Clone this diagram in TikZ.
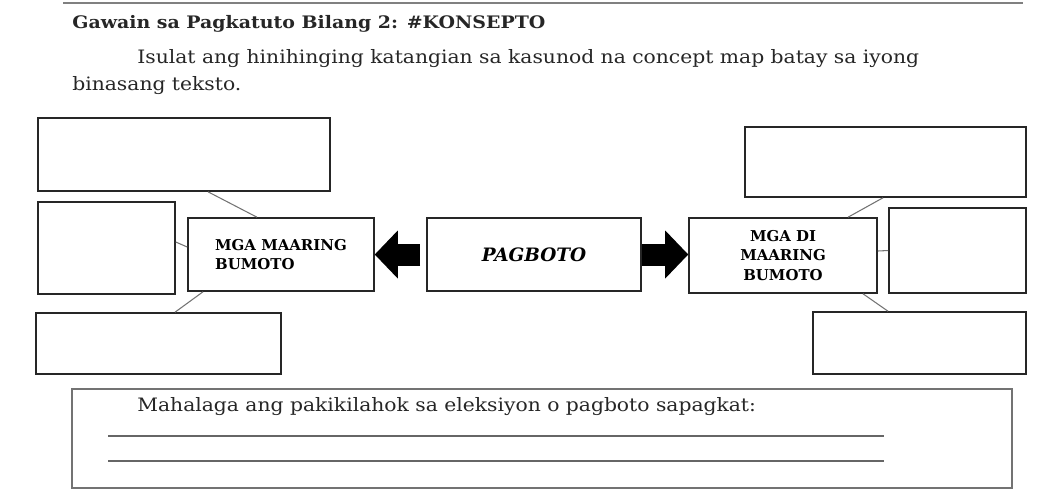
\documentclass[tikz,border=0pt]{standalone}
\usepackage{fontspec}
\setmainfont{DejaVu Serif}
\newfontfamily\widefont{DejaVu Serif}[FakeStretch=1.1]
\usetikzlibrary{positioning}
\usetikzlibrary{calc}
\usetikzlibrary{arrows.meta}

\tikzset{
	blankbox/.style={draw=black!85, line width=0.9pt, inner sep=0pt},
	labelbox/.style={blankbox, font=\bfseries\fontsize{8.5}{11}\selectfont},
	twig/.style={draw=black!55, line width=0.6pt},
	fatarrow/.style={black, line width=0.44cm, -{Triangle[length=0.46cm, width=0.96cm, line width=0pt]}},
	plaintext/.style={anchor=base west, inner sep=0pt, text=black!85, font=\widefont\fontsize{10.5}{12}\selectfont},
}

\begin{document}
\begin{tikzpicture}[x=0.02cm, y=-0.02cm]
		\useasboundingbox (0,0) rectangle (1041,498);
		\draw [black!50, line width=1.2pt] (63,3) -- (1023,3);
		
		\node at (72,28) [plaintext, font=\widefont\bfseries\fontsize{9.8}{12}\selectfont] (title) {Gawain sa Pagkatuto Bilang 2: \#KONSEPTO};
		\node at (137,63) [plaintext] (intro) {Isulat ang hinihinging katangian sa kasunod na concept map batay sa iyong};
		\node at (72,90) [plaintext] (introtwo) {binasang teksto.};
		
		% gitna
		\node at (534,254.5) [blankbox, minimum width=4.28cm, minimum height=1.46cm, font=\bfseries\itshape\fontsize{10.5}{12}\selectfont] (pagboto) {PAGBOTO};
		\node at (281,254.5) [labelbox, minimum width=3.72cm, minimum height=1.46cm, align=left] (maaring) {MGA MAARING\\BUMOTO};
		\node at (783,255.5) [labelbox, minimum width=3.76cm, minimum height=1.5cm, align=center] (dimaaring) {MGA DI\\MAARING\\BUMOTO};
		
		% kaliwa
		\node at (184,154.5) [blankbox, minimum width=5.84cm, minimum height=1.46cm] (lefttop) {};
		\node at (106.5,248) [blankbox, minimum width=2.74cm, minimum height=1.84cm] (leftmid) {};
		\node at (158.5,343.5) [blankbox, minimum width=4.9cm, minimum height=1.22cm] (leftbot) {};
		
		% kanan
		\node at (885.5,162) [blankbox, minimum width=5.62cm, minimum height=1.4cm] (righttop) {};
		\node at (957.5,250.5) [blankbox, minimum width=2.74cm, minimum height=1.7cm] (rightmid) {};
		\node at (919.5,343) [blankbox, minimum width=4.26cm, minimum height=1.24cm] (rightbot) {};
		
		\draw [fatarrow, shorten <=0.12cm] (pagboto.west) -- (maaring.east);
		\draw [fatarrow] (pagboto.east) -- (pagboto.east -| dimaaring.west);
		
		\draw [twig] ($(lefttop.south)+(24,0)$) -- ($(maaring.north)+(-24,0)$);
		\draw [twig] ($(leftmid.east)+(0,-6)$) -- ($(maaring.west)+(0,-7.5)$);
		\draw [twig] ($(maaring.south)+(-78,0)$) -- ($(leftbot.north)+(16.5,0)$);
		\draw [twig] ($(dimaaring.north)+(65,0)$) -- ($(righttop.south)+(-2.5,0)$);
		\draw [twig] ($(dimaaring.east)+(0,-4.5)$) -- (rightmid.west);
		\draw [twig] ($(dimaaring.south)+(80,0)$) -- ($(rightbot.north)+(-31.5,0)$);
		
		% sagutan
		\node at (542,438.5) [draw=black!55, line width=0.7pt, minimum width=18.8cm, minimum height=1.98cm] (answer) {};
		\node at (137,411) [plaintext] (prompt) {Mahalaga ang pakikilahok sa eleksiyon o pagboto sapagkat:};
		\draw [black!60, line width=0.7pt] (108,436) -- (884,436);
		\draw [black!60, line width=0.7pt] (108,461) -- (884,461);
		
\end{tikzpicture}
\end{document}
